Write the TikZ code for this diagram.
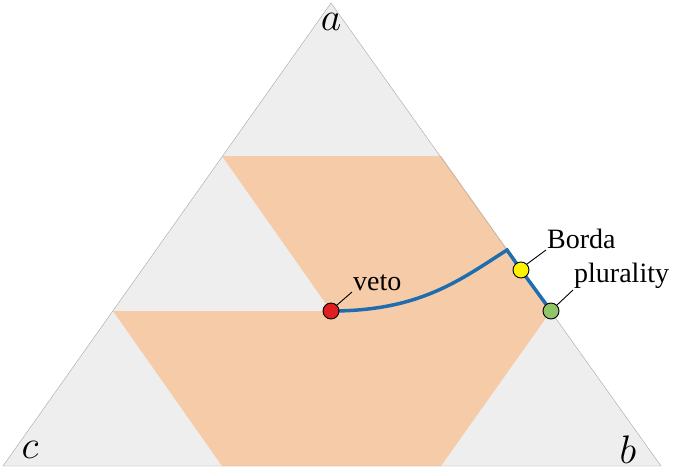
\documentclass[tikz,border=0pt]{standalone}
\usepackage{fontspec}
\setmainfont{Liberation Serif}
\definecolor{peach}{HTML}{F6CCA8}
\definecolor{tri}{HTML}{EEEEEE}
\definecolor{pathblue}{HTML}{1F6DAE}
\definecolor{plurg}{HTML}{92C46A}
\definecolor{vred}{HTML}{E02020}
\begin{document}
\begin{tikzpicture}[x=1pt,y=-1pt,
  dot/.style={circle,draw=black,line width=0.9pt,minimum size=16pt,inner sep=0pt},
  lbl/.style={font=\fontsize{28}{30}\selectfont,inner sep=1pt},
  vlbl/.style={font=\Huge,scale=1.6,transform shape}]
\useasboundingbox (0,0) rectangle (678,471);
\coordinate (A) at (331,3);
\coordinate (C) at (3,466);
\coordinate (B) at (661,466);
\fill[tri] (A)--(B)--(C)--cycle;
\fill[peach] (222,156)--(441,156)--(551,311)--(441,466)--(222,466)--(113,311)--(331,311)--cycle;
\draw[gray!70,line width=0.4pt] (A)--(B)--(C)--cycle;
\node[vlbl] (la) at (331,22) {$a$};
\node[vlbl] (lc) at (30,450) {$c$};
\node[vlbl] (lb) at (628,450) {$b$};
\coordinate (k) at (507,250);
\draw[line width=3.5pt,pathblue] (331,311) .. controls (420,311) and (460,280) .. (k) -- (521,270) -- (551,311);
\node[dot,fill=vred] (veto) at (331,311) {};
\node[dot,fill=yellow] (borda) at (521,270) {};
\node[dot,fill=plurg] (plur) at (551,311) {};
\node[lbl,anchor=south west] (tveto) at (352,292) {veto};
\node[lbl,anchor=south west] (tborda) at (546,250) {Borda};
\node[lbl,anchor=south west] (tplur) at (573,290) {plurality};
\draw[line width=0.9pt] (veto.north east) -- (tveto.south west);
\draw[line width=0.9pt] (borda.north east) -- (tborda.south west);
\draw[line width=0.9pt] (plur.north east) -- (tplur.south west);
\end{tikzpicture}
\end{document}
